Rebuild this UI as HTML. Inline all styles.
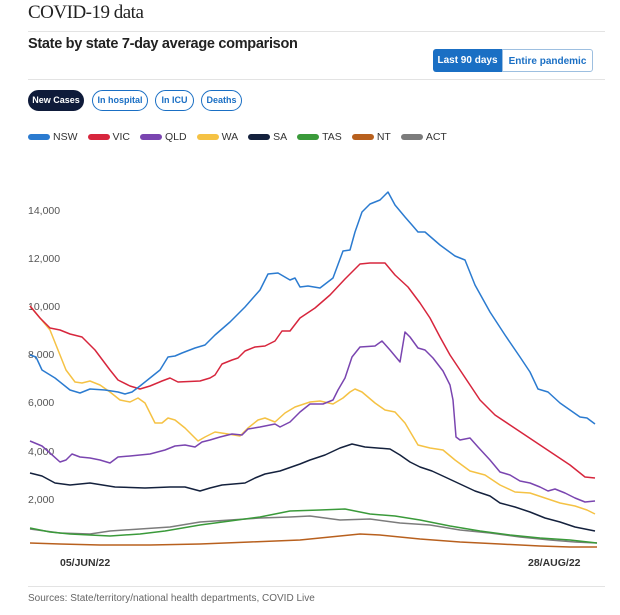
<!DOCTYPE html>
<html><head><meta charset="utf-8"><style>
html,body{margin:0;padding:0;background:#fff;width:620px;height:615px;overflow:hidden;font-family:"Liberation Sans",sans-serif}
.abs{position:absolute}
.t1{left:28px;top:2px;font-family:"Liberation Serif",serif;font-size:19px;color:#222;letter-spacing:-0.5px}
.hr{left:28px;width:577px;height:1px;background:#e3e3e3}
.t2{left:28px;top:36px;font-size:14.5px;font-weight:bold;color:#222;letter-spacing:-0.3px}
.btn{top:49px;height:23px;line-height:23px;font-size:10px;font-weight:bold;text-align:center;box-sizing:border-box}
.pill{top:90px;height:21px;line-height:19px;font-size:9px;font-weight:bold;text-align:center;border-radius:11px;box-sizing:border-box;border:1px solid #1a6fc4;color:#1a6fc4}
.leg{top:131px;font-size:10.5px;color:#333;display:flex;align-items:center;left:28px}
.leg span.s{display:inline-block;width:22px;height:6px;border-radius:3px;margin-right:3px}
.leg span.l{margin-right:10px}
</style></head><body>
<div class="abs t1">COVID-19 data</div>
<div class="abs hr" style="top:31px"></div>
<div class="abs t2">State by state 7-day average comparison</div>
<div class="abs btn" style="left:433px;width:69px;background:#1a6fc4;color:#fff;border-radius:3px 0 0 3px">Last 90 days</div>
<div class="abs btn" style="left:502px;width:91px;border:1px solid #9dbfe0;color:#1a6fc4;border-radius:0 3px 3px 0">Entire pandemic</div>
<div class="abs hr" style="top:79px"></div>
<div class="abs pill" style="left:28px;width:56px;background:#0f1b3a;color:#fff;border-color:#0f1b3a">New Cases</div>
<div class="abs pill" style="left:92px;width:56px">In hospital</div>
<div class="abs pill" style="left:155px;width:39px">In ICU</div>
<div class="abs pill" style="left:201px;width:41px">Deaths</div>
<div class="abs leg">
<span class="s" style="background:#2b7bd0"></span><span class="l">NSW</span>
<span class="s" style="background:#d7263d"></span><span class="l">VIC</span>
<span class="s" style="background:#7a45b0"></span><span class="l">QLD</span>
<span class="s" style="background:#f5c244"></span><span class="l">WA</span>
<span class="s" style="background:#14213d"></span><span class="l">SA</span>
<span class="s" style="background:#3a9a3a"></span><span class="l">TAS</span>
<span class="s" style="background:#b8601e"></span><span class="l">NT</span>
<span class="s" style="background:#7c7c7c"></span><span class="l">ACT</span>
</div>
<svg class="abs" style="left:0;top:0" width="620" height="615">
<g font-family="Liberation Sans,sans-serif" font-size="10.5" fill="#555">
<text x="28" y="214">14,000</text><text x="28" y="262">12,000</text><text x="28" y="310">10,000</text>
<text x="28" y="358">8,000</text><text x="28" y="406">6,000</text><text x="28" y="455">4,000</text><text x="28" y="503">2,000</text>
<text x="60" y="566" font-weight="bold" fill="#333">05/JUN/22</text>
<text x="528" y="566" font-weight="bold" fill="#333">28/AUG/22</text>
<text x="28" y="601" font-size="10" fill="#666">Sources: State/territory/national health departments, COVID Live</text>
</g>
<rect x="28" y="586" width="577" height="1" fill="#e3e3e3"/>
<g fill="none" stroke-width="1.5" stroke-linejoin="round">
<polyline stroke="#b8601e" points="30,543 60,544 100,545 150,545 200,544 250,542 300,540 340,536 360,534 380,535 420,539 460,542 500,544 540,546 570,547 597,547"/>
<polyline stroke="#7c7c7c" points="30,529 45,531 60,533 90,534 110,531 140,529 170,527 200,522 230,520 260,518 290,517 310,516 340,520 370,519 400,523 430,525 460,530 490,533 520,537 550,540 575,542 597,543"/>
<polyline stroke="#3a9a3a" points="30,528 50,532 70,534 90,535 110,536 140,534 165,531 200,525 230,521 260,517 290,511 320,510 345,509 370,514 395,516 420,520 450,526 480,531 510,535 540,538 570,540 597,543"/>
<polyline stroke="#14213d" points="30,473 42,476 55,483 70,485 90,483 115,487 145,488 170,487 185,487 200,491 210,488 222,485 245,483 255,478 265,474 280,471 300,464 310,460 325,455 340,448 352,444 365,447 390,449 400,455 410,462 420,467 432,471 445,477 460,484 475,491 490,496 500,503 515,507 530,512 545,518 560,522 575,527 595,531"/>
<polyline stroke="#f5c244" points="30,306 40,318 50,330 58,350 66,370 75,382 82,383 90,381 100,385 110,392 120,400 130,402 138,398 145,403 155,423 162,423 168,418 175,420 185,428 198,441 205,437 215,432 228,434 240,436 248,428 258,420 265,418 275,422 285,413 295,407 310,402 320,401 333,404 343,398 350,392 355,389 362,392 375,403 385,410 395,412 405,423 418,445 430,448 443,450 455,460 470,471 485,475 500,485 515,492 530,493 545,498 560,503 575,506 587,510 595,514"/>
<polyline stroke="#7a45b0" points="30,441 42,446 50,453 60,462 66,460 72,454 80,457 90,458 100,460 110,463 118,457 130,456 150,454 165,450 175,446 185,445 195,447 202,442 210,440 220,437 232,434 242,435 248,429 260,427 275,424 280,427 290,422 300,412 310,404 323,404 333,400 338,390 345,378 352,357 360,347 375,346 382,341 390,350 400,362 405,332 410,337 418,348 425,350 433,358 443,371 450,385 453,400 456,437 460,440 470,438 478,447 490,460 500,472 510,475 520,481 530,483 540,487 548,491 555,489 565,493 575,498 585,502 595,501"/>
<polyline stroke="#d7263d" points="30,306 40,318 50,328 60,330 70,334 82,337 95,350 110,370 118,380 130,386 140,389 150,386 162,381 170,378 178,382 200,381 210,378 215,375 222,364 232,360 238,358 245,351 255,347 265,346 275,341 282,331 290,331 300,318 315,308 330,295 345,279 360,264 370,263 385,263 395,275 408,287 420,303 430,318 440,337 450,355 460,370 470,385 480,400 495,415 510,425 525,435 540,445 555,455 570,465 585,477 595,478"/>
<polyline stroke="#2b7bd0" points="30,355 36,357 42,370 55,378 70,390 80,393 90,389 105,390 118,392 125,394 132,392 140,386 150,378 160,370 168,357 175,356 182,353 195,348 205,345 215,335 230,322 245,307 260,290 268,274 278,273 290,280 295,278 300,287 308,286 320,288 333,278 343,251 350,250 355,232 362,212 370,204 380,200 388,192 395,205 405,217 412,225 418,232 425,232 440,245 455,256 465,260 475,285 490,312 505,335 520,357 530,372 538,389 548,392 560,403 570,410 580,417 587,418 595,424"/>
</g>
</svg>
</body></html>
